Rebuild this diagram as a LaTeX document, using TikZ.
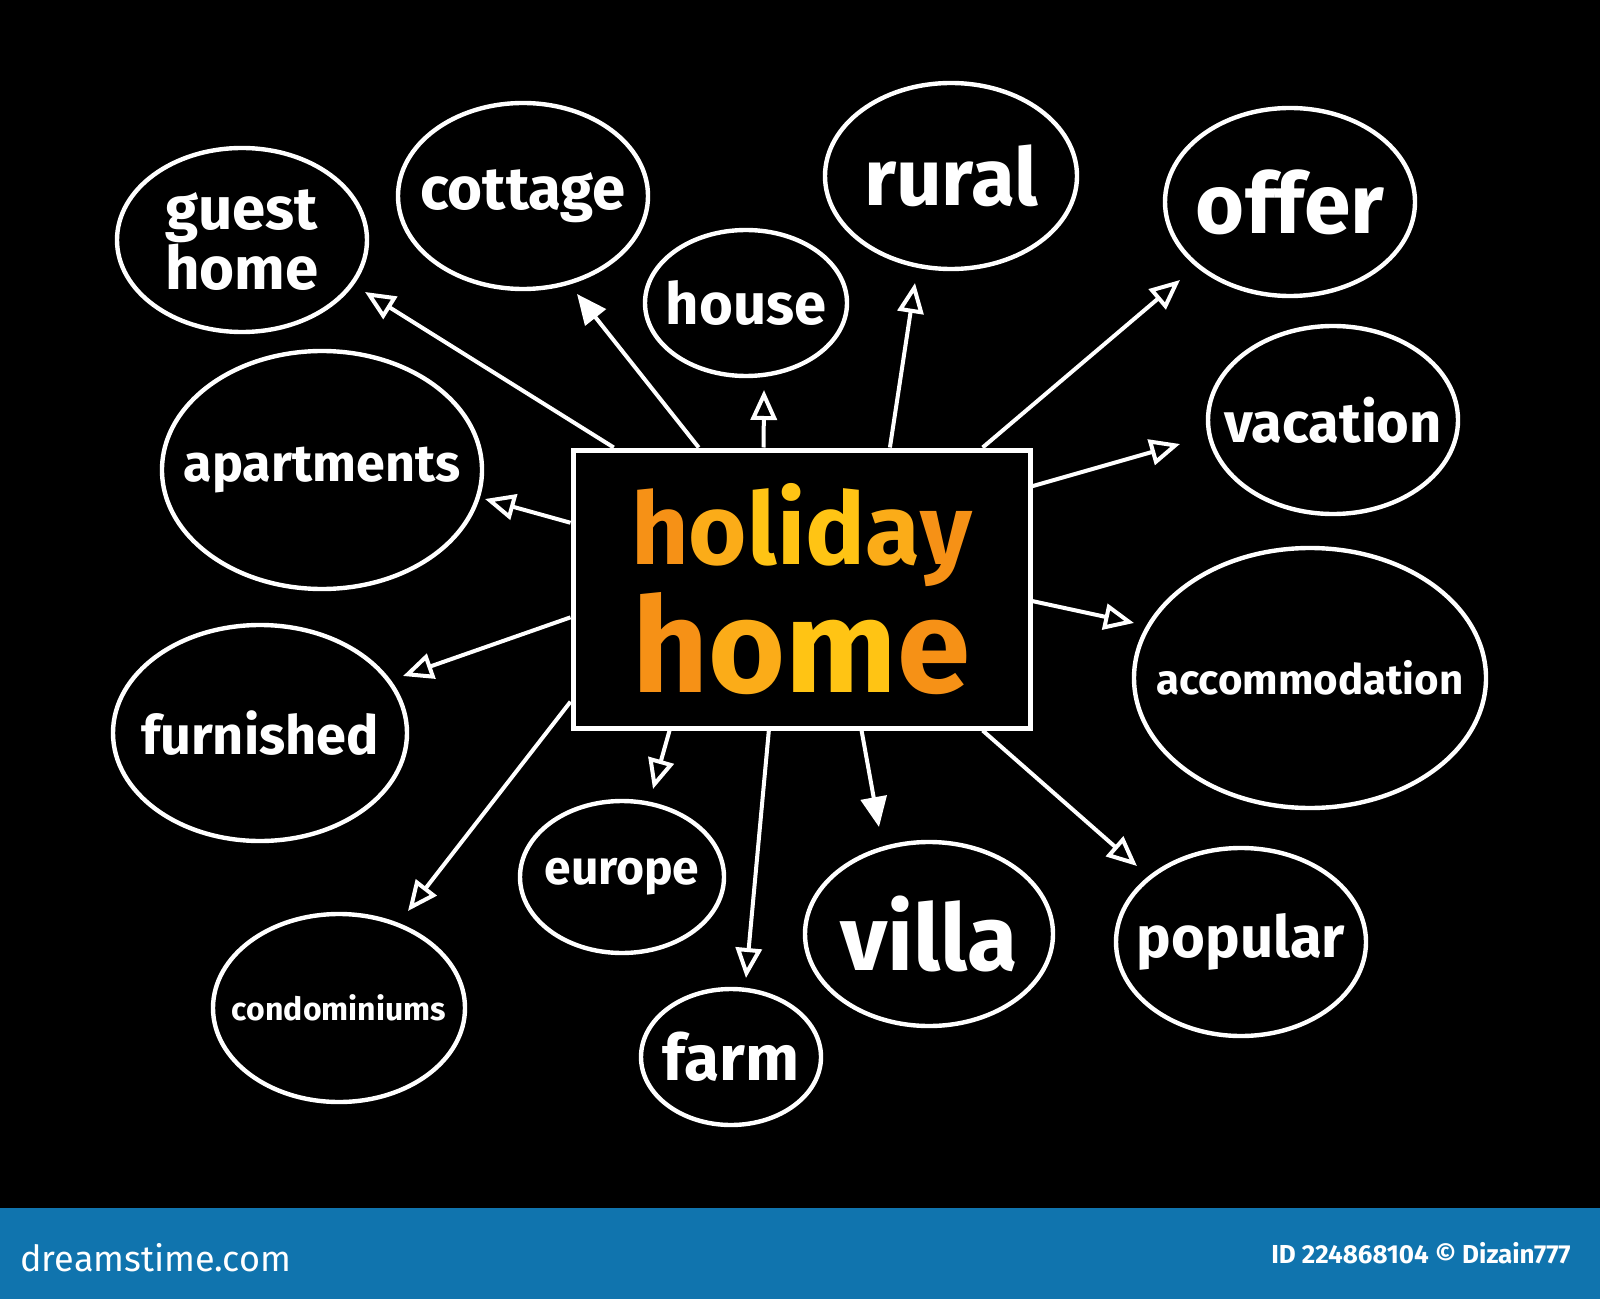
\documentclass[tikz,border=0pt]{standalone}
\usepackage{fontspec}
\setmainfont{Fira Sans}
\usetikzlibrary{shapes.geometric,arrows.meta}
\definecolor{hhorange}{RGB}{246,145,22}
\definecolor{hhmid}{RGB}{251,172,24}
\definecolor{hhyellow}{RGB}{255,196,20}
\definecolor{dtblue}{RGB}{16,116,174}
\newcommand{\txtsize}[1]{\fontsize{#1}{#1}\selectfont}
\newcommand{\bubtext}[1]{\makebox[0pt]{#1}}
\newcommand{\oc}[1]{\textcolor{hhorange}{#1}}
\newcommand{\mc}[1]{\textcolor{hhmid}{#1}}
\newcommand{\yc}[1]{\textcolor{hhyellow}{#1}}

\begin{document}
\begin{tikzpicture}[
    x=0.5pt, y=-0.5pt,
    bubble/.style={ellipse, draw=white, line width=2.2pt, inner sep=0pt, text=white, align=center},
    mainbox/.style={rectangle, draw=white, line width=2.5pt, minimum width=228.5pt, minimum height=139pt, inner sep=0pt, align=center, text=hhmid, font=\bfseries},
    arr/.style={white, line width=2pt, ->},
    arrfill/.style={white, line width=2pt, -{Triangle[length=15pt,width=13pt]}},
    >={Triangle[open,length=15pt,width=13pt]}
]
% Hintergrund
\useasboundingbox[fill=black] (0,0) rectangle (1600,1299);

% Hauptknoten
\node[mainbox] at (801.5,589) (main) {{\txtsize{50pt}\oc{h}\mc{o}\yc{lid}\mc{a}\oc{y}}\\[2pt]{\txtsize{66pt}\oc{h}\mc{o}\yc{m}\oc{e}}};

% Begriffe rundherum
\node[bubble, minimum width=125pt, minimum height=92pt, font=\bfseries\fontsize{30pt}{28pt}\selectfont] at (242,240) (guest) {\bubtext{guest}\\\bubtext{home}};
\node[bubble, minimum width=125pt, minimum height=93pt, font=\bfseries\txtsize{30pt}] at (523,196) (cottage) {\bubtext{cottage}};
\node[bubble, minimum width=101pt, minimum height=73pt, font=\bfseries\txtsize{29pt}] at (746,303) (house) {\bubtext{house}};
\node[bubble, minimum width=126pt, minimum height=93pt, font=\bfseries\txtsize{40pt}] at (951,176) (rural) {\bubtext{rural}};
\node[bubble, minimum width=125pt, minimum height=94pt, font=\bfseries\txtsize{42pt}] at (1290,202) (offer) {\bubtext{offer}};
\node[bubble, minimum width=125pt, minimum height=94pt, font=\bfseries\txtsize{28pt}] at (1333,420) (vacation) {\bubtext{vacation}};
\node[bubble, minimum width=160pt, minimum height=119pt, font=\bfseries\txtsize{26pt}] at (322,470) (apart) {\bubtext{apartments}};
\node[bubble, minimum width=176pt, minimum height=130pt, font=\bfseries\txtsize{21pt}] at (1310,678) (accom) {\bubtext{accommodation}};
\node[bubble, minimum width=147pt, minimum height=108pt, font=\bfseries\txtsize{27pt}] at (260,733) (furnished) {\bubtext{furnished}};
\node[bubble, minimum width=126pt, minimum height=94pt, font=\bfseries\txtsize{16pt}] at (339,1008) (condo) {\bubtext{condominiums}};
\node[bubble, minimum width=102pt, minimum height=76pt, font=\bfseries\txtsize{24pt}] at (622,877) (europe) {\bubtext{europe}};
\node[bubble, minimum width=90pt, minimum height=68pt, font=\bfseries\txtsize{32pt}] at (731,1057) (farm) {\bubtext{farm}};
\node[bubble, minimum width=124pt, minimum height=92pt, font=\bfseries\txtsize{46pt}] at (929,934) (villa) {\bubtext{villa}};
\node[bubble, minimum width=125pt, minimum height=94pt, font=\bfseries\txtsize{29pt}] at (1241,942) (popular) {\bubtext{popular}};

% Pfeilspitzen
\coordinate (tipGuest) at (365,292);
\coordinate (tipCottage) at (577,294);
\coordinate (tipHouse) at (764,390);
\coordinate (tipRural) at (915,283);
\coordinate (tipOffer) at (1180,280);
\coordinate (tipVacation) at (1180,444);
\coordinate (tipAccom) at (1134,623);
\coordinate (tipPopular) at (1137,866);
\coordinate (tipVilla) at (879,827);
\coordinate (tipFarm) at (746,978);
\coordinate (tipEurope) at (653,789);
\coordinate (tipCondo) at (408,911);
\coordinate (tipFurnished) at (403,676);
\coordinate (tipApart) at (485,499);

% Pfeile vom Hauptknoten
\draw[arr] (main.143) -- (tipGuest);
\draw[arrfill] (main.126) -- (tipCottage);
\draw[arr] (main.105) -- (tipHouse);
\draw[arr] (main.58.5) -- (tipRural);
\draw[arr] (main.38) -- (tipOffer);
\draw[arr] (main.24) -- (tipVacation);
\draw[arr] (main.-3) -- (tipAccom);
\draw[arr] (main.-38) -- (tipPopular);
\draw[arrfill] (main.-67) -- (tipVilla);
\draw[arr] (main.-103.5) -- (tipFarm);
\draw[arr] (main.-133.6) -- (tipEurope);
\draw[arr] (main.-154.3) -- (tipCondo);
\draw[arr] (main.187.4) -- (tipFurnished);
\draw[arr] (main.164.8) -- (tipApart);

% Fusszeile
\fill[dtblue] (0,1208) rectangle (1600,1299);
\node[anchor=base west, text=white, inner sep=0pt] at (20,1271) (logo) {\txtsize{18pt}dreamstime.com};
\node[anchor=base east, text=white, inner sep=0pt] at (1571,1263) (imgid) {\bfseries\txtsize{13pt}ID 224868104 © Dizain777};
\end{tikzpicture}
\end{document}
